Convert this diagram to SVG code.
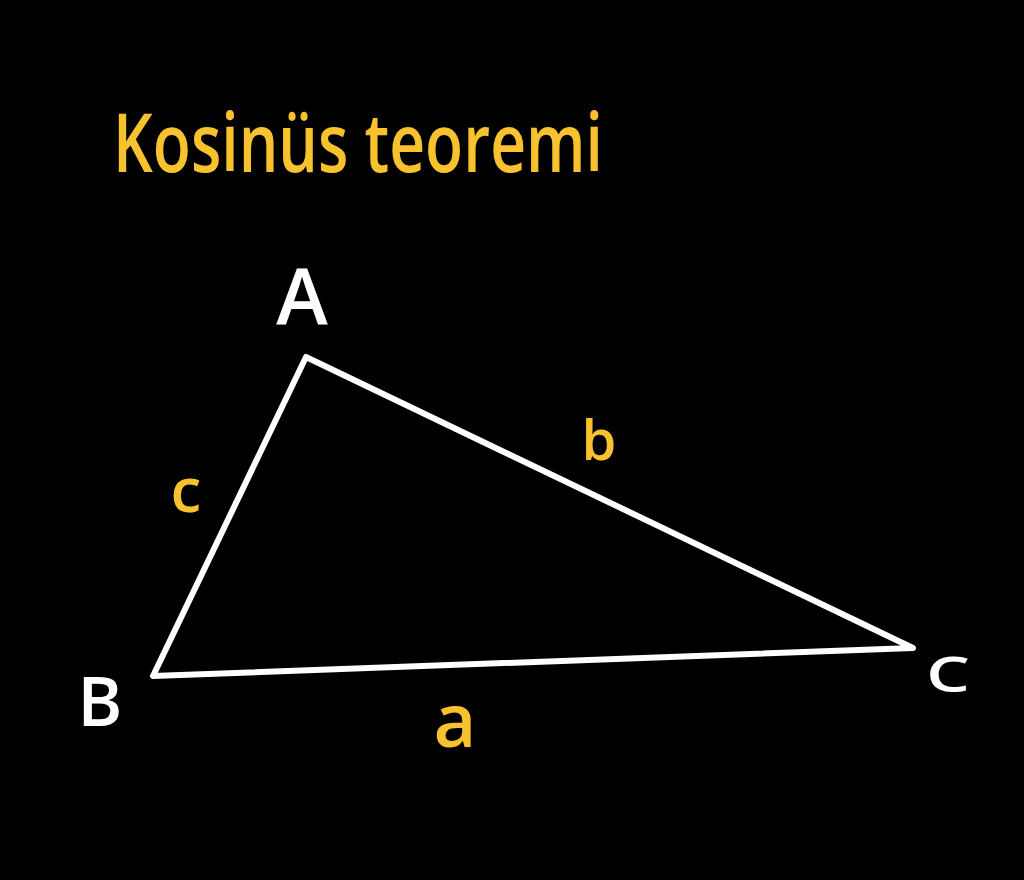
<svg xmlns="http://www.w3.org/2000/svg" width="1024" height="880" viewBox="0 0 1024 880">
  <style>
    .y { fill: #F8C12E; font-family: "Open Sans", "Liberation Sans", sans-serif; font-weight: 600; }
    .w { fill: #FFFFFF; font-family: "Open Sans", "Liberation Sans", sans-serif; font-weight: 600; }
    .edge { fill: none; stroke: #FFFFFF; stroke-width: 6; stroke-linejoin: round; stroke-linecap: round; }
  </style>
  <rect x="0" y="0" width="1024" height="880" fill="#000000"/>
  <g id="title">
    <text class="y" x="113" y="172" font-size="82" textLength="490" lengthAdjust="spacingAndGlyphs">Kosinüs teoremi</text>
  </g>
  <g id="connectors">
    <polygon class="edge" points="306,357 153,676 913,648"/>
  </g>
  <g id="node-A">
    <text class="w" x="302" y="324" font-size="78" text-anchor="middle">A</text>
  </g>
  <g id="node-B">
    <text class="w" x="100" y="726" font-size="68" text-anchor="middle">B</text>
  </g>
  <g id="node-C">
    <text class="w" x="926" y="692" font-size="48" textLength="44" lengthAdjust="spacingAndGlyphs">C</text>
  </g>
  <g id="label-a">
    <text class="y" x="455" y="747" font-size="74" text-anchor="middle">a</text>
  </g>
  <g id="label-b">
    <text class="y" x="599" y="460" font-size="56" text-anchor="middle">b</text>
  </g>
  <g id="label-c">
    <text class="y" x="186" y="512" font-size="62" text-anchor="middle">c</text>
  </g>
</svg>
